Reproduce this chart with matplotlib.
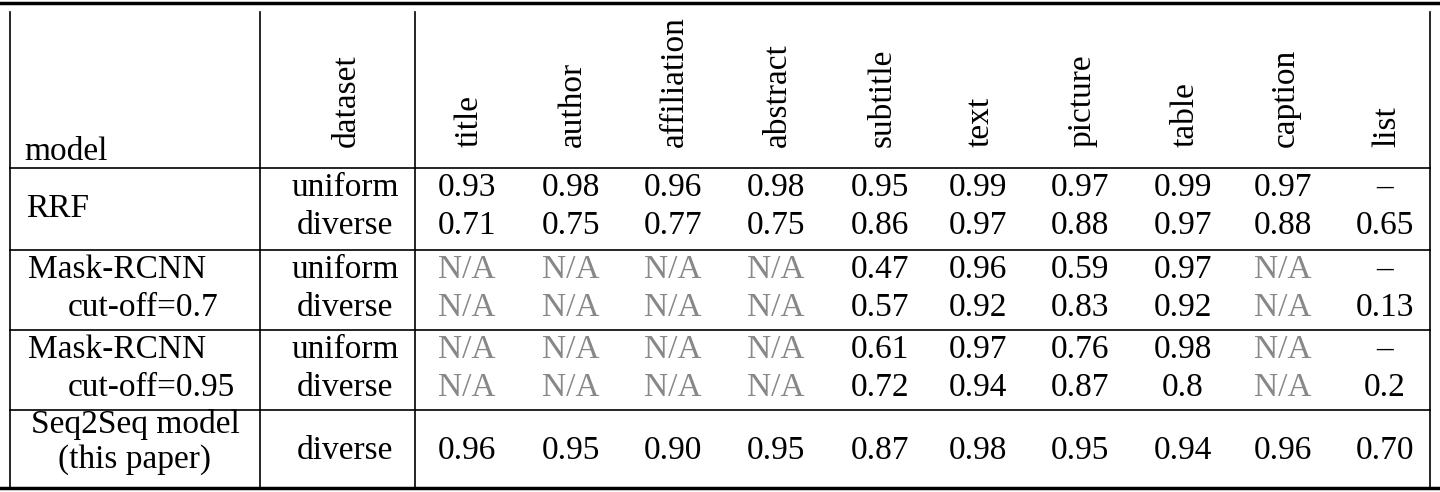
import matplotlib
matplotlib.use("Agg")
import matplotlib.pyplot as plt

columns = ["title", "author", "affiliation", "abstract", "subtitle", "text",
           "picture", "table", "caption", "list"]
row_models = [["RRF"], ["Mask-RCNN", "cut-off=0.7"], ["Mask-RCNN", "cut-off=0.95"],
              ["Seq2Seq model", "(this paper)"]]
row_datasets = [["uniform", "diverse"], ["uniform", "diverse"], ["uniform", "diverse"], ["diverse"]]
values = [
    [["0.93", "0.98", "0.96", "0.98", "0.95", "0.99", "0.97", "0.99", "0.97", "–"],
     ["0.71", "0.75", "0.77", "0.75", "0.86", "0.97", "0.88", "0.97", "0.88", "0.65"]],
    [["N/A", "N/A", "N/A", "N/A", "0.47", "0.96", "0.59", "0.97", "N/A", "–"],
     ["N/A", "N/A", "N/A", "N/A", "0.57", "0.92", "0.83", "0.92", "N/A", "0.13"]],
    [["N/A", "N/A", "N/A", "N/A", "0.61", "0.97", "0.76", "0.98", "N/A", "–"],
     ["N/A", "N/A", "N/A", "N/A", "0.72", "0.94", "0.87", "0.8", "N/A", "0.2"]],
    [["0.96", "0.95", "0.90", "0.95", "0.87", "0.98", "0.95", "0.94", "0.96", "0.70"]],
]

plt.rcParams["font.family"] = ["Liberation Serif", "DejaVu Serif"]
fig = plt.figure(figsize=(14.4, 4.92), dpi=100)
ax = fig.add_axes([0, 0, 1, 1])
ax.set_xlim(0, 1440)
ax.set_ylim(492, 0)
ax.axis("off")

fs = 24
col_x = [467, 571, 673, 776, 880, 978, 1080, 1183, 1283, 1385]
ds_x = 345

# rules
ax.plot([0, 1440], [3, 3], color="black", lw=2.5)
ax.plot([0, 1440], [488, 488], color="black", lw=2.5)
for y in [168, 250, 330, 410]:
    ax.plot([10, 1430], [y, y], color="black", lw=1.2)
for x in [10, 260, 415, 1430]:
    ax.plot([x, x], [12, 488], color="black", lw=1.2)

# header
ax.text(24, 160, "model", fontsize=fs, ha="left", va="baseline")
ax.text(ds_x + 2, 147, "dataset", fontsize=fs, rotation=90, ha="center", va="bottom")
for x, c in zip(col_x, columns):
    ax.text(x + 2, 147, c, fontsize=fs, rotation=90, ha="center", va="bottom")

row_tops = [168, 250, 330, 410]
row_bots = [250, 330, 410, 488]
for i, (models, dsets, vals) in enumerate(zip(row_models, row_datasets, values)):
    top, bot = row_tops[i], row_bots[i]
    n = len(dsets)
    if n == 2:
        ys = [top + 20, top + 58]
    else:
        ys = [(top + bot) / 2 + 2]
    for y, d, rv in zip(ys, dsets, vals):
        ax.text(ds_x, y, d, fontsize=fs, ha="center", va="center")
        for x, v in zip(col_x, rv):
            ax.text(x, y, v, fontsize=fs, ha="center", va="center",
                    color="#888888" if v == "N/A" else "black")
    if len(models) == 1:
        ax.text(26, (top + bot) / 2, models[0], fontsize=fs, ha="left", va="center")
    elif i == 3:
        ax.text(135, top + 14, models[0], fontsize=fs, ha="center", va="center")
        ax.text(135, top + 50, models[1], fontsize=fs, ha="center", va="center")
    else:
        ax.text(28, ys[0], models[0], fontsize=fs, ha="left", va="center")
        ax.text(68, ys[1], models[1], fontsize=fs, ha="left", va="center")

fig.savefig("out.png", dpi=100)
